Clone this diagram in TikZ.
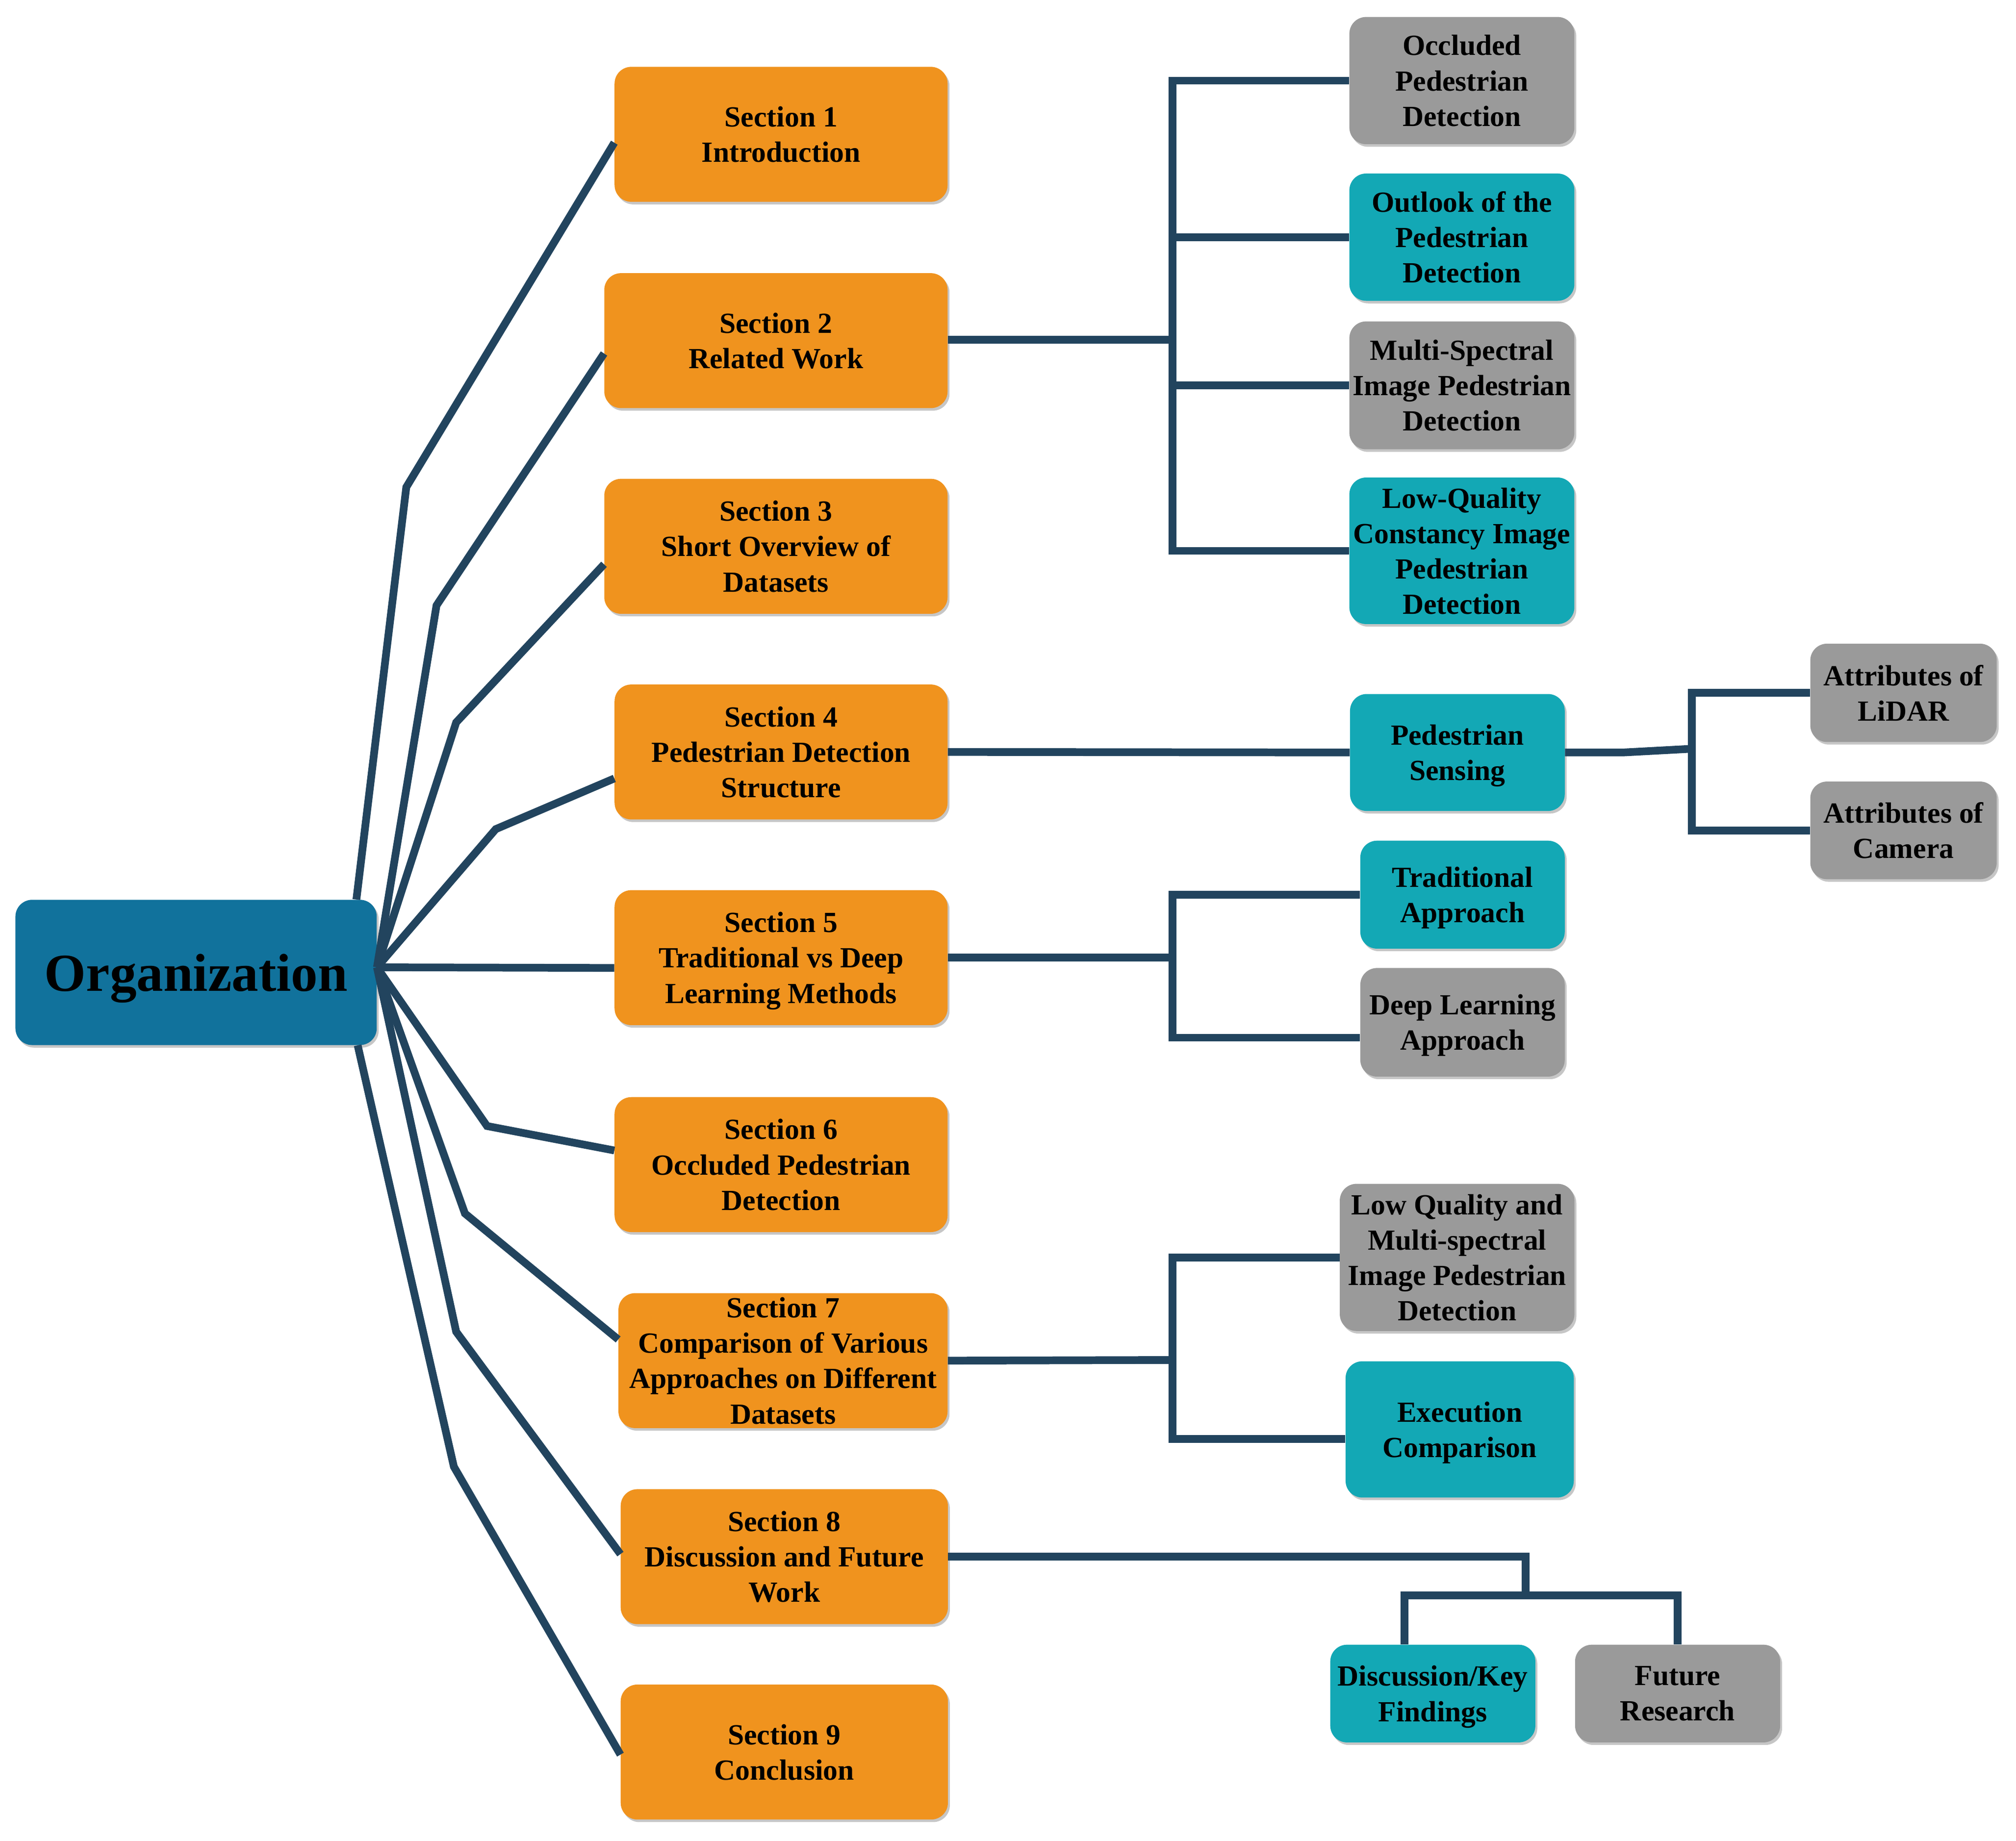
\documentclass[tikz,border=0pt]{standalone}
\usepackage{fontspec}
\setmainfont{Liberation Serif}
\usepackage{tikz}
\usetikzlibrary{shapes,shadows}

\definecolor{naranja}{HTML}{F0931E}
\definecolor{turquesa}{HTML}{13A8B5}
\definecolor{gris}{HTML}{9A9A9A}
\definecolor{azulRaiz}{HTML}{11729C}
\definecolor{linea}{HTML}{22445E}
\definecolor{sombra}{HTML}{C6C6C6}

\begin{document}
\begin{tikzpicture}[x=1pt,y=-1pt]
    \tikzset{caja/.style = {shape=rectangle,rounded corners=13pt,inner sep=0pt,align=center,text depth=0pt,drop shadow={shadow xshift=1.5pt,shadow yshift=-2pt,fill=sombra,opacity=1}}}
    \tikzset{Raiz/.style = {caja,fill=azulRaiz,minimum width=281pt,minimum height=113pt,font=\fontsize{41.6}{50}\selectfont\bfseries}}
    \tikzset{Seccion/.style = {caja,fill=naranja,minimum width=259pt,minimum height=105pt,font=\fontsize{22.75}{27.5}\selectfont\bfseries}}
    \tikzset{HojaGris/.style = {caja,fill=gris,font=\fontsize{22.75}{27.5}\selectfont\bfseries}}
    \tikzset{HojaTurquesa/.style = {caja,fill=turquesa,font=\fontsize{22.75}{27.5}\selectfont\bfseries}}

    \tikzset{rama/.style = {draw=linea,line width=6pt}}

    \useasboundingbox (0,0) rectangle (1568,1432);

    \node[Raiz] (raiz) at (152.5,756.5) {Organization};

    \node[Seccion] (sec1) at (607.5,104.5) {Section 1\\Introduction};
    \node[Seccion,minimum width=267pt] (sec2) at (603.5,265) {Section 2\\Related Work};
    \node[Seccion,minimum width=267pt] (sec3) at (603.5,425) {Section 3\\Short Overview of\\Datasets};
    \node[Seccion] (sec4) at (607.5,585) {Section 4\\Pedestrian Detection\\Structure};
    \node[Seccion] (sec5) at (607.5,745) {Section 5\\Traditional vs Deep\\Learning Methods};
    \node[Seccion] (sec6) at (607.5,906) {Section 6\\Occluded Pedestrian\\Detection};
    \node[Seccion,minimum width=256pt] (sec7) at (609,1058.5) {Section 7\\Comparison of Various\\Approaches on Different\\Datasets};
    \node[Seccion,minimum width=254.5pt] (sec8) at (610,1211) {Section 8\\Discussion and Future\\Work};
    \node[Seccion,minimum width=254.5pt] (sec9) at (610,1363) {Section 9\\Conclusion};

    \node[HojaGris,minimum width=175pt,minimum height=99pt] (ocluido) at (1137,62.7) {Occluded\\Pedestrian\\Detection};
    \node[HojaTurquesa,minimum width=175pt,minimum height=99pt] (perspectiva) at (1137,184.5) {Outlook of the\\Pedestrian\\Detection};
    \node[HojaGris,minimum width=175pt,minimum height=99.5pt] (multiEsp) at (1137,299.8) {Multi-Spectral\\Image Pedestrian\\Detection};
    \node[HojaTurquesa,minimum width=175pt,minimum height=114pt] (bajaCalidad) at (1137,428.5) {Low-Quality\\Constancy Image\\Pedestrian\\Detection};

    \node[HojaTurquesa,minimum width=167pt,minimum height=91pt] (sensado) at (1133.5,585.4) {Pedestrian\\Sensing};
    \node[HojaGris,minimum width=145pt,minimum height=76.5pt] (lidar) at (1480.5,539) {Attributes of\\LiDAR};
    \node[HojaGris,minimum width=145pt,minimum height=76pt] (camara) at (1480.5,646) {Attributes of\\Camera};

    \node[HojaTurquesa,minimum width=159pt,minimum height=84pt] (tradicional) at (1137.5,696) {Traditional\\Approach};
    \node[HojaGris,minimum width=159pt,minimum height=84.5pt] (profundo) at (1137.5,795.3) {Deep Learning\\Approach};

    \node[HojaGris,minimum width=182.5pt,minimum height=114.5pt] (calidadMulti) at (1133.3,978.2) {Low Quality and\\Multi-spectral\\Image Pedestrian\\Detection};
    \node[HojaTurquesa,minimum width=177.5pt,minimum height=106pt] (ejecucion) at (1135.3,1112) {Execution\\Comparison};

    \node[HojaTurquesa,minimum width=159.5pt,minimum height=76pt] (hallazgos) at (1114.4,1317.5) {Discussion/Key\\Findings};
    \node[HojaGris,minimum width=159.5pt,minimum height=76pt] (futuro) at (1304.8,1317.5) {Future\\Research};

    \draw[rama] ([xshift=-16pt]raiz.north east) -- (316,379) -- ([yshift=-6.5pt]sec1.west);
    \draw[rama] ([yshift=4pt]raiz.east) -- (339.5,471) -- ([yshift=-10pt]sec2.west);
    \draw[rama] ([yshift=4pt]raiz.east) -- (354.8,562) -- ([yshift=-14pt]sec3.west);
    \draw[rama] ([yshift=4pt]raiz.east) -- (385.6,645) -- ([yshift=-20.6pt]sec4.west);
    \draw[rama] ([yshift=4pt]raiz.east) -- ([yshift=-8pt]sec5.west);
    \draw[rama] ([yshift=4pt]raiz.east) -- (378.8,876) -- ([yshift=11pt]sec6.west);
    \draw[rama] ([yshift=4pt]raiz.east) -- (361.6,944) -- ([yshift=16.5pt]sec7.west);
    \draw[rama] ([yshift=4pt]raiz.east) -- (354.8,1036) -- ([yshift=2pt]sec8.west);
    \draw[rama] ([xshift=-15pt]raiz.south east) -- (353,1141) -- ([yshift=-2pt]sec9.west);

    \coordinate (ramaA) at (912,264.3);
    \draw[rama] ([yshift=0.7pt]sec2.east) -- (ramaA);
    \draw[rama] (ocluido.west) -| (ramaA) |- (bajaCalidad.west);
    \draw[rama] (perspectiva.west) -- (perspectiva.west -| ramaA);
    \draw[rama] (multiEsp.west) -- (multiEsp.west -| ramaA);

    \draw[rama] (sec4.east) -- (sensado.west);
    \coordinate (ramaB) at (1316,582.5);
    \draw[rama] (sensado.east) -- ++(45,0) -- (ramaB);
    \draw[rama] (lidar.west) -| (ramaB) |- (camara.west);

    \coordinate (ramaC) at (912,745);
    \draw[rama] (sec5.east) -- (ramaC);
    \draw[rama] (tradicional.west) -| (ramaC) |- ([yshift=-12pt]profundo.west);

    \coordinate (ramaD) at (912,1058);
    \draw[rama] (sec7.east) -- (ramaD);
    \draw[rama] (calidadMulti.west) -| (ramaD) |- ([yshift=-7.5pt]ejecucion.west);

    \coordinate (ramaE) at (1186.5,1241);
    \draw[rama] (sec8.east) -| (ramaE);
    \draw[rama] ([xshift=-22pt]hallazgos.north) |- (ramaE) -| (futuro.north);

\end{tikzpicture}
\end{document}
